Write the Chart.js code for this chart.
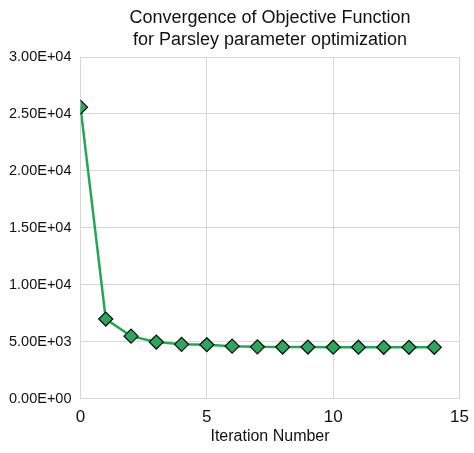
<!DOCTYPE html>
<html>
<head>
<meta charset="utf-8">
<script src="https://cdn.jsdelivr.net/npm/chart.js@4/dist/chart.umd.min.js"></script>
<style>
  html, body { margin: 0; padding: 0; background: #fff; }
  #wrap { width: 474px; height: 453px; }
</style>
</head>
<body>
<div id="wrap"><canvas id="convChart"></canvas></div>
<script>
// ---- Datos ----
const iterations = [0, 1, 2, 3, 4, 5, 6, 7, 8, 9, 10, 11, 12, 13, 14];
const objective  = [25600, 7000, 5500, 4980, 4780, 4750, 4620, 4560, 4550, 4540, 4530, 4530, 4520, 4520, 4520];
const titleLines = ['Convergence of Objective Function', 'for Parsley parameter optimization'];
const xTicks = [0, 5, 10, 15];
const yTicks = [0, 5000, 10000, 15000, 20000, 25000, 30000];

const LINE_GREEN = '#22a853';
const FILL_GREEN = '#2aa85c';
const GRID_GREY  = '#d6d6d6';
const FONT = "'Liberation Sans', Arial, sans-serif";

// 3.00E+04 style
function sci(v) {
    const [m, e] = v.toExponential(2).split('e');
    const n = parseInt(e, 10);
    const pad = String(Math.abs(n)).padStart(2, '0');
    return m + 'E' + (n < 0 ? '-' : '+') + pad;
}

// título centrado sobre el área de la gráfica
const centeredTitle = {
    id: 'centeredTitle',
    afterDraw(chart) {
        const { ctx, chartArea } = chart;
        const cx = (chartArea.left + chartArea.right) / 2;
        ctx.save();
        ctx.fillStyle = '#111';
        ctx.font = '18px ' + FONT;
        ctx.textAlign = 'center';
        ctx.textBaseline = 'alphabetic';
        titleLines.forEach((t, i) => ctx.fillText(t, cx, 23 + i * 22));
        ctx.restore();
    }
};

new Chart(document.getElementById('convChart'), {
    type: 'line',
    data: {
        datasets: [{
            label: 'Objective',
            data: iterations.map((x, i) => ({ x, y: objective[i] })),
            borderColor: LINE_GREEN,
            borderWidth: 2.5,
            pointStyle: 'rectRot',
            pointRadius: 7,
            pointBackgroundColor: FILL_GREEN,
            pointBorderColor: '#111',
            pointBorderWidth: 1.3,
            tension: 0,
            fill: false
        }]
    },
    options: {
        responsive: true,
        maintainAspectRatio: false,
        animation: false,
        layout: { padding: { top: 57, left: 0, right: 14, bottom: 8 } },
        plugins: {
            legend: { display: false },
            title: { display: false },
            tooltip: { enabled: false }
        },
        scales: {
            x: {
                type: 'linear',
                min: 0,
                max: 15,
                afterBuildTicks: axis => { axis.ticks = xTicks.map(v => ({ value: v })); },
                grid: { color: GRID_GREY, drawTicks: false },
                border: { color: GRID_GREY },
                ticks: { color: '#111', padding: 5, font: { family: FONT, size: 17, lineHeight: 1.6 } },
                title: { display: true, text: 'Iteration Number', color: '#111', padding: { top: -7, bottom: 0 }, font: { family: FONT, size: 16, lineHeight: 1 } }
            },
            y: {
                min: 0,
                max: 30000,
                afterBuildTicks: axis => { axis.ticks = yTicks.map(v => ({ value: v })); },
                grid: { color: GRID_GREY, drawTicks: false },
                border: { color: GRID_GREY },
                ticks: { color: '#111', padding: 9, font: { family: FONT, size: 14.5 }, callback: v => sci(v) }
            }
        }
    },
    plugins: [centeredTitle]
});
</script>
</body>
</html>
